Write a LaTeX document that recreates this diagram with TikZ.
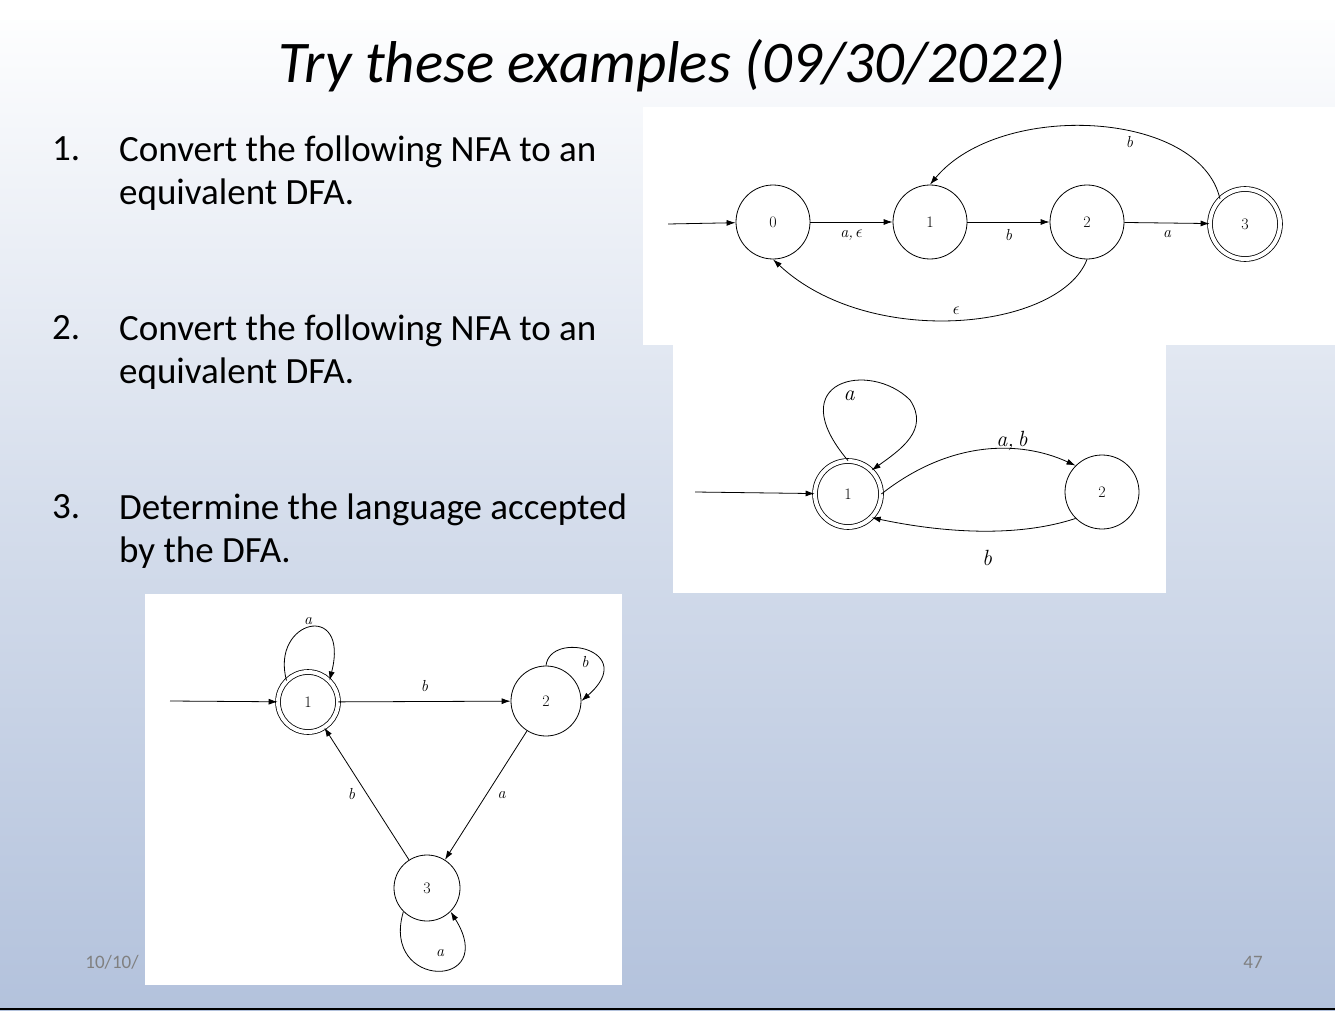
\documentclass[tikz,border=0pt]{standalone}
\usepackage{fontspec}
\setmainfont{Carlito}
\newfontfamily\lmfont{Latin Modern Roman}
\usetikzlibrary{arrows.meta}
\definecolor{bgbot}{HTML}{B3C2DC}
\tikzset{
 st/.style={circle,draw,thick,minimum size=74pt,inner sep=0,font=\lmfont\fontsize{16}{16}\selectfont},
 sst/.style={circle,draw,thick,minimum size=64pt,inner sep=0,font=\lmfont\fontsize{16}{16}\selectfont},
 acc/.style={double,double distance=4pt},
 lab/.style={font=\lmfont\itshape\fontsize{16}{16}\selectfont},
 labb/.style={font=\lmfont\itshape\fontsize{22}{22}\selectfont},
 ed/.style={thick,-{Latex[length=9pt,width=6pt]}},
 body/.style={anchor=north west,align=left,font=\fontsize{37}{43}\selectfont,inner sep=0},
}
\begin{document}
\begin{tikzpicture}[x=1pt,y=-1pt]
\useasboundingbox (0,0) rectangle (1335,1011);
\shade[top color=white,bottom color=bgbot,middle color=bgbot!55] (0,0) rectangle (1335,1011);
\fill[white] (0,0) rectangle (1335,20);
\draw[line width=2pt] (0,1009) -- (1335,1009);
\node[font=\itshape\fontsize{59}{59}\selectfont] (title) at (672,66) {Try these examples (09/30/2022)};
\node[body] (n1) at (52,136) {1.};
\node[body] (t1) at (119,136) {Convert the following NFA to an\\equivalent DFA.};
\node[body] (n2) at (52,315) {2.};
\node[body] (t2) at (119,315) {Convert the following NFA to an\\equivalent DFA.};
\node[body] (n3) at (52,494) {3.};
\node[body] (t3) at (119,494) {Determine the language accepted\\by the DFA.};
\node[font=\fontsize{19}{19}\selectfont,text=gray] (d) at (112,962) {10/10/};
\node[font=\fontsize{19}{19}\selectfont,text=gray] (p) at (1253,962) {47};
% panels
\fill[white] (643,107) rectangle (1335,345);
\fill[white] (673,345) rectangle (1166,593);
\fill[white] (145,594) rectangle (622,985);
% diagram 1
\node[st] (a0) at (773,222) {0};
\node[st] (a1) at (930,222) {1};
\node[st] (a2) at (1087,222) {2};
\node[st,acc,minimum size=70pt] (a3) at (1245,224) {3};
\coordinate (s1) at (668,224);
\draw[ed] (s1) -- (a0);
\draw[ed] (a0) -- node[lab,below=4pt]{a,\,$\epsilon$} (a1);
\draw[ed] (a1) -- node[lab,below=4pt]{b} (a2);
\draw[ed] (a2) -- node[lab,below=4pt]{a} (a3);
\draw[ed] (a3.north west) .. controls (1200,110) and (1000,100) .. node[lab,below=2pt,pos=0.4]{b} (a1.north);
\draw[ed] (a2.south) .. controls (1060,330) and (870,350) .. node[lab,above=2pt,pos=0.5]{$\epsilon$} (a0.south);
% diagram 2
\node[st,acc,minimum size=66pt] (b1) at (848,494) {1};
\node[st] (b2) at (1102,492) {2};
\coordinate (s2) at (695,492);
\draw[ed] (s2) -- (b1);
\draw[ed] (b1.north) .. controls (780,380) and (870,360) .. (910,400) .. controls (930,430) and (900,450) .. (b1.north east);
\node[labb] (la) at (849,396) {a};
\draw[ed] (b1.east) .. controls (950,440) and (1020,440) .. (b2.north west);
\node[labb] (lab) at (1012,441) {a,\,b};
\draw[ed] (b2.south west) .. controls (1010,540) and (930,530) .. (b1.south east);
\node[labb] (lb) at (987,558) {b};
% diagram 3
\node[sst,acc,minimum size=60pt] (c1) at (308,702) {1};
\node[sst,minimum size=70pt] (c2) at (546,701) {2};
\node[sst,minimum size=66pt] (c3) at (427,888) {3};
\coordinate (s3) at (170,701);
\draw[ed] (s3) -- (c1);
\draw[ed] (c1) -- node[lab,above=6pt]{b} (c2);
\draw[ed] (c2) -- node[lab,right=8pt]{a} (c3);
\draw[ed] (c3) -- node[lab,left=8pt]{b} (c1);
\draw[ed] (c1.north west) .. controls (270,620) and (350,600) .. (c1.north east);
\node[lab] (l1) at (308,621) {a};
\draw[ed] (c2.north) .. controls (550,630) and (640,650) .. (c2.east);
\node[lab] (l2) at (585,662) {b};
\draw[ed] (c3.south west) .. controls (380,990) and (500,990) .. (c3.south east);
\node[lab] (l3) at (440,953) {a};
\end{tikzpicture}
\end{document}
